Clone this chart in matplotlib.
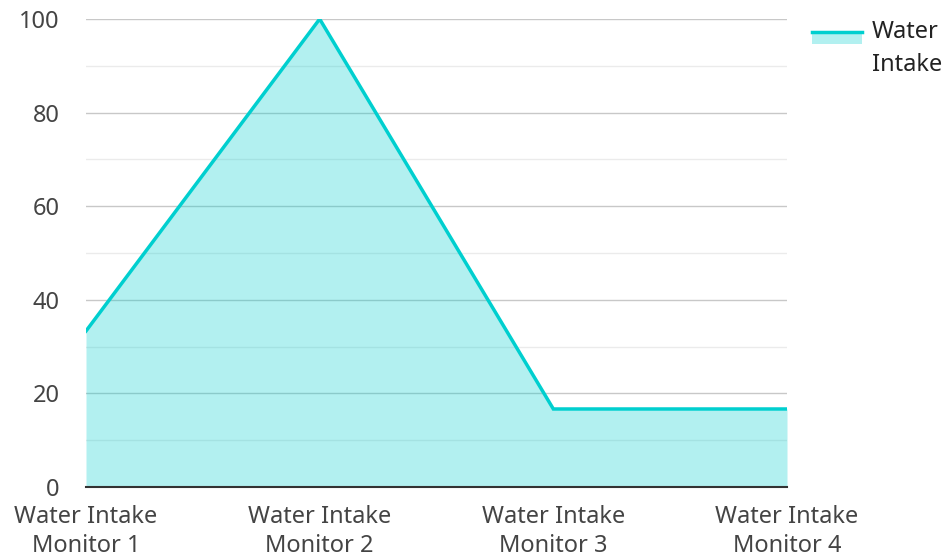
import matplotlib
matplotlib.use('Agg')
import matplotlib.pyplot as plt
from matplotlib.patches import Rectangle
from matplotlib.lines import Line2D

plt.rcParams['font.family'] = ['Noto Sans', 'DejaVu Sans']

# data
categories = ['Water Intake\nMonitor 1', 'Water Intake\nMonitor 2',
              'Water Intake\nMonitor 3', 'Water Intake\nMonitor 4']
values = [33.33, 100, 16.67, 16.67]
series_name = 'Water\nIntake'
yticks = [0, 20, 40, 60, 80, 100]

line_color = '#00cfcf'
text_color = '#444444'
fsize = 17

W, H = 945, 560
fig = plt.figure(figsize=(W / 100, H / 100), dpi=100)
ax = fig.add_axes([86 / W, 1 - 487 / H, (787 - 86) / W, (487 - 19) / H])

x = list(range(len(values)))
ax.fill_between(x, 0, values, color=line_color, alpha=0.3, linewidth=0, zorder=2)
ax.plot(x, values, color=line_color, linewidth=2.5, zorder=3, solid_joinstyle='miter')

ax.set_xlim(0, len(values) - 1)
ax.set_ylim(0, 100)
ax.set_xticks(x)
ax.set_xticklabels(categories)
ax.set_yticks(yticks)
ax.set_yticks(range(10, 100, 20), minor=True)

ax.grid(True, which='major', axis='y', color='#c8c8c8', linewidth=1, zorder=1)
ax.grid(True, which='minor', axis='y', color='#ebebeb', linewidth=1, zorder=1)
ax.set_axisbelow(True)

for s in ['top', 'right', 'left']:
    ax.spines[s].set_visible(False)
ax.spines['bottom'].set_color('#333333')
ax.spines['bottom'].set_linewidth(1.5)
ax.spines['bottom'].set_zorder(4)

ax.tick_params(axis='both', which='both', length=0, labelsize=fsize, colors=text_color)
ax.tick_params(axis='y', pad=19)
ax.tick_params(axis='x', pad=13)
for lbl in ax.get_xticklabels():
    lbl.set_linespacing(1.3)

# legend drawn by hand (handle aligned with first text line)
def fx(px):
    return px / W

def fy(py):
    return 1 - py / H

fig.add_artist(Rectangle((fx(812), fy(44)), fx(50), 12 / H, color=line_color,
                         alpha=0.3, linewidth=0, transform=fig.transFigure))
fig.add_artist(Line2D([fx(812), fx(862)], [fy(32), fy(32)], color=line_color,
                      linewidth=2.5, transform=fig.transFigure))
fig.text(fx(872), fy(20), series_name, fontsize=fsize, color='#222222',
         va='top', ha='left', linespacing=1.5)

fig.savefig('out.png', dpi=100)
